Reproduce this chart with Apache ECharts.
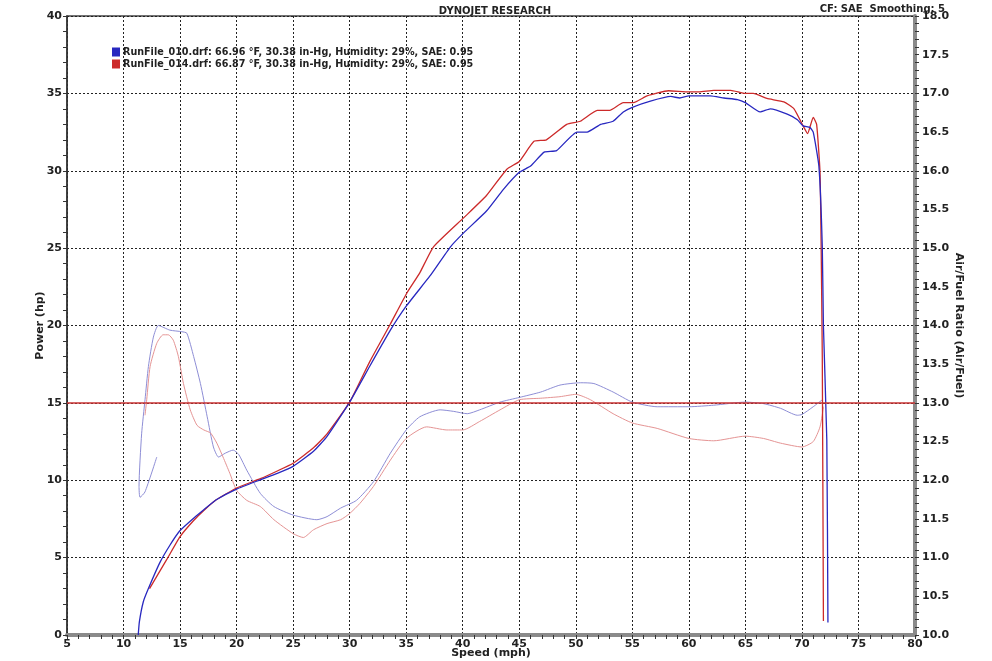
<!DOCTYPE html>
<html>
<head>
<meta charset="utf-8">
<script src="https://cdn.jsdelivr.net/npm/echarts@6/dist/echarts.min.js"></script>
<style>
  html, body { margin: 0; padding: 0; background: #fff; }
  #chart { width: 992px; height: 661px; }
</style>
</head>
<body>
<div id="chart"></div>
<script>
// run 010 (blue) power vs speed
const blueSpeed = [11.3, 11.4, 11.75, 12.2, 13.2, 14.1, 15.0, 16.2, 17.1, 18.2, 20.0, 22.1, 23.6, 25.0, 26.8, 28.0, 30.0, 31.8, 33.6, 35.0, 37.1, 38.9, 40.1, 42.1, 43.6, 45.0, 46.0, 47.2, 48.3, 50.1, 51.0, 52.2, 53.3, 54.2, 55.0, 56.6, 58.4, 59.2, 60.0, 61.9, 63.1, 64.3, 65.0, 66.3, 67.2, 68.7, 69.6, 70.1, 70.7, 71.0, 71.5, 71.8, 71.9, 72.2, 72.3];
const bluePower = [0.0, 0.85, 2.15, 3.0, 4.66, 5.8, 6.75, 7.55, 8.1, 8.74, 9.43, 10.03, 10.45, 10.9, 11.87, 12.84, 15.05, 17.4, 19.7, 21.25, 23.2, 25.07, 26.0, 27.4, 28.8, 29.9, 30.3, 31.2, 31.3, 32.5, 32.5, 33.0, 33.2, 33.8, 34.1, 34.5, 34.8, 34.7, 34.84, 34.84, 34.7, 34.6, 34.4, 33.8, 34.0, 33.66, 33.3, 32.9, 32.8, 32.5, 30.3, 25.1, 20.0, 12.6, 0.8];

// run 014 (red) power vs speed
const redSpeed = [12.3, 13.8, 15.0, 16.2, 17.1, 18.2, 20.0, 22.1, 23.6, 25.0, 26.8, 28.0, 30.0, 31.8, 33.6, 35.06, 36.2, 37.4, 40.1, 42.1, 43.9, 45.0, 46.3, 47.4, 49.2, 50.4, 51.9, 53.0, 54.2, 55.1, 56.3, 58.2, 60.0, 60.9, 62.2, 63.7, 65.0, 65.7, 66.9, 68.4, 69.3, 70.1, 70.5, 71.0, 71.3, 71.6, 71.7, 71.8, 71.9];
const redPower = [3.0, 4.85, 6.36, 7.4, 8.05, 8.74, 9.5, 10.1, 10.6, 11.1, 12.1, 13.0, 15.05, 17.7, 20.1, 22.1, 23.4, 25.07, 26.97, 28.4, 30.1, 30.6, 31.9, 32.0, 33.0, 33.2, 33.9, 33.9, 34.4, 34.4, 34.84, 35.17, 35.1, 35.1, 35.2, 35.2, 35.0, 35.0, 34.67, 34.45, 34.0, 32.9, 32.4, 33.45, 33.0, 29.9, 25.1, 18.0, 0.9];

// air/fuel ratio traces
const blueAfrSpeed = [12.94, 11.9, 11.46, 11.37, 11.6, 11.9, 12.2, 12.64, 13.08, 14.1, 15.15, 15.6, 16.2, 16.8, 17.4, 17.95, 18.4, 19.0, 19.7, 20.2, 20.9, 22.1, 23.3, 25.0, 27.1, 28.0, 29.2, 30.6, 32.1, 33.6, 35.0, 36.2, 38.0, 39.2, 40.4, 41.5, 43.3, 45.0, 46.9, 48.6, 50.4, 51.6, 53.3, 55.0, 57.2, 60.0, 62.2, 65.0, 66.6, 68.1, 69.6, 70.0, 71.0, 71.8];
const blueAfr = [12.30, 11.85, 11.78, 11.92, 12.6, 13.04, 13.47, 13.85, 14.0, 13.94, 13.92, 13.9, 13.6, 13.25, 12.82, 12.43, 12.30, 12.35, 12.39, 12.33, 12.13, 11.83, 11.66, 11.55, 11.49, 11.53, 11.64, 11.74, 11.98, 12.35, 12.65, 12.82, 12.91, 12.89, 12.86, 12.91, 13.01, 13.07, 13.14, 13.23, 13.26, 13.25, 13.14, 13.01, 12.95, 12.95, 12.97, 13.01, 12.99, 12.93, 12.84, 12.85, 12.95, 13.04];
const redAfrSpeed = [11.9, 12.05, 12.35, 12.94, 13.5, 13.96, 14.4, 14.85, 15.3, 15.9, 16.5, 17.1, 17.7, 18.25, 18.8, 19.4, 20.0, 20.9, 22.1, 23.3, 25.0, 25.9, 26.8, 28.0, 29.2, 30.0, 30.9, 32.1, 33.6, 35.0, 36.8, 38.6, 40.0, 41.5, 43.3, 45.0, 46.9, 48.6, 50.0, 51.3, 53.3, 55.0, 57.2, 60.0, 62.2, 65.0, 66.6, 68.1, 70.0, 71.0, 71.6, 71.9];
const redAfr = [12.84, 13.04, 13.47, 13.77, 13.88, 13.88, 13.81, 13.6, 13.25, 12.91, 12.71, 12.65, 12.61, 12.48, 12.30, 12.09, 11.87, 11.74, 11.66, 11.49, 11.31, 11.26, 11.36, 11.44, 11.49, 11.57, 11.70, 11.92, 12.26, 12.54, 12.69, 12.65, 12.65, 12.76, 12.91, 13.04, 13.06, 13.08, 13.11, 13.04, 12.86, 12.74, 12.67, 12.54, 12.51, 12.57, 12.54, 12.48, 12.43, 12.50, 12.69, 12.95];

const targetAfr = 13.0;
const run010 = 'RunFile_010.drf: 66.96 °F, 30.38 in-Hg, Humidity: 29%, SAE: 0.95';
const run014 = 'RunFile_014.drf: 66.87 °F, 30.38 in-Hg, Humidity: 29%, SAE: 0.95';

const pairs = (xs, ys) => xs.map((x, i) => [x, ys[i]]);
const FONT = 'DejaVu Sans';
const lbl = { fontFamily: FONT, fontWeight: 'bold', fontSize: 11, color: '#222' };

const chart = echarts.init(document.getElementById('chart'));
chart.setOption({
  animation: false,
  backgroundColor: '#fff',
  title: [
    { text: 'DYNOJET RESEARCH', left: 490, top: 1, textAlign: 'center',
      textStyle: { fontFamily: FONT, fontWeight: 'bold', fontSize: 10, color: '#222' } },
    { text: 'CF: SAE  Smoothing: 5', right: 42, top: -1,
      textStyle: { fontFamily: FONT, fontWeight: 'bold', fontSize: 10, color: '#222' } }
  ],
  legend: {
    data: [run010, run014],
    orient: 'vertical', left: 107, top: 42,
    itemWidth: 8, itemHeight: 9, itemGap: 2,
    icon: 'rect',
    textStyle: { fontFamily: FONT, fontWeight: 'bold', fontSize: 9.6, color: '#222', padding: [0, 0, 0, -2] },
    selectedMode: false
  },
  grid: { left: 67, right: 77, top: 16, bottom: 26, outerBoundsMode: 'none', containLabel: false,
    show: true, borderColor: '#444', borderWidth: 1.5, backgroundColor: 'transparent' },
  xAxis: {
    type: 'value', min: 5, max: 80, interval: 5,
    name: 'Speed (mph)', nameLocation: 'middle', nameGap: 24, nameMoveOverlap: false,
    nameTextStyle: Object.assign({ verticalAlign: 'bottom' }, lbl),
    axisLine: { show: true, onZero: false, lineStyle: { color: '#8a8a8a', width: 4 } },
    axisTick: { show: true, length: 4, lineStyle: { color: '#333' } },
    minorTick: { show: true, splitNumber: 5, length: 4, lineStyle: { color: '#333' } },
    axisLabel: Object.assign({ margin: 4 }, lbl),
    splitLine: { show: true, lineStyle: { color: '#222', type: [2, 2], width: 1 } }
  },
  yAxis: [
    {
      type: 'value', min: 0, max: 40, interval: 5, position: 'left',
      name: 'Power (hp)', nameLocation: 'middle', nameGap: 21, nameRotate: 90, nameMoveOverlap: false,
      nameTextStyle: lbl,
      axisLine: { show: true, lineStyle: { color: '#333', width: 1.5 } },
      axisTick: { show: true, length: 4, lineStyle: { color: '#333' } },
      minorTick: { show: true, splitNumber: 5, length: 4, lineStyle: { color: '#333' } },
      axisLabel: Object.assign({ margin: 5 }, lbl),
      splitLine: { show: true, lineStyle: { color: '#222', type: [2, 2], width: 1 } }
    },
    {
      type: 'value', min: 10, max: 18, interval: 0.5, position: 'right',
      name: 'Air/Fuel Ratio (Air/Fuel)', nameLocation: 'middle', nameGap: 38, nameRotate: -90, nameMoveOverlap: false,
      nameTextStyle: lbl,
      axisLine: { show: true, lineStyle: { color: '#8a8a8a', width: 4 } },
      axisTick: { show: true, length: 4, lineStyle: { color: '#333' } },
      minorTick: { show: true, splitNumber: 5, length: 4, lineStyle: { color: '#333' } },
      axisLabel: Object.assign({ margin: 7, formatter: v => v.toFixed(1) }, lbl),
      splitLine: { show: false }
    }
  ],
  series: [
    { name: run010, type: 'line', data: pairs(blueSpeed, bluePower), yAxisIndex: 0,
      showSymbol: false, smooth: 0.15, color: '#2828c0', lineStyle: { width: 1.3, color: '#2828c0' }, z: 4 },
    { name: run014, type: 'line', data: pairs(redSpeed, redPower), yAxisIndex: 0,
      showSymbol: false, smooth: 0.15, color: '#cc2a2a', lineStyle: { width: 1.3, color: '#cc2a2a' }, z: 3 },
    { name: run010, type: 'line', data: pairs(blueAfrSpeed, blueAfr), yAxisIndex: 1,
      showSymbol: false, smooth: 0.2, lineStyle: { width: 1, color: '#8e8ed6' }, z: 2 },
    { name: run014, type: 'line', data: pairs(redAfrSpeed, redAfr), yAxisIndex: 1,
      showSymbol: false, smooth: 0.2, lineStyle: { width: 1, color: '#e59494' }, z: 2,
      markLine: { silent: true, symbol: 'none', label: { show: false },
        lineStyle: { color: '#c83232', type: 'solid', width: 1.5 },
        data: [{ yAxis: targetAfr }] } }
  ]
});
</script>
</body>
</html>
